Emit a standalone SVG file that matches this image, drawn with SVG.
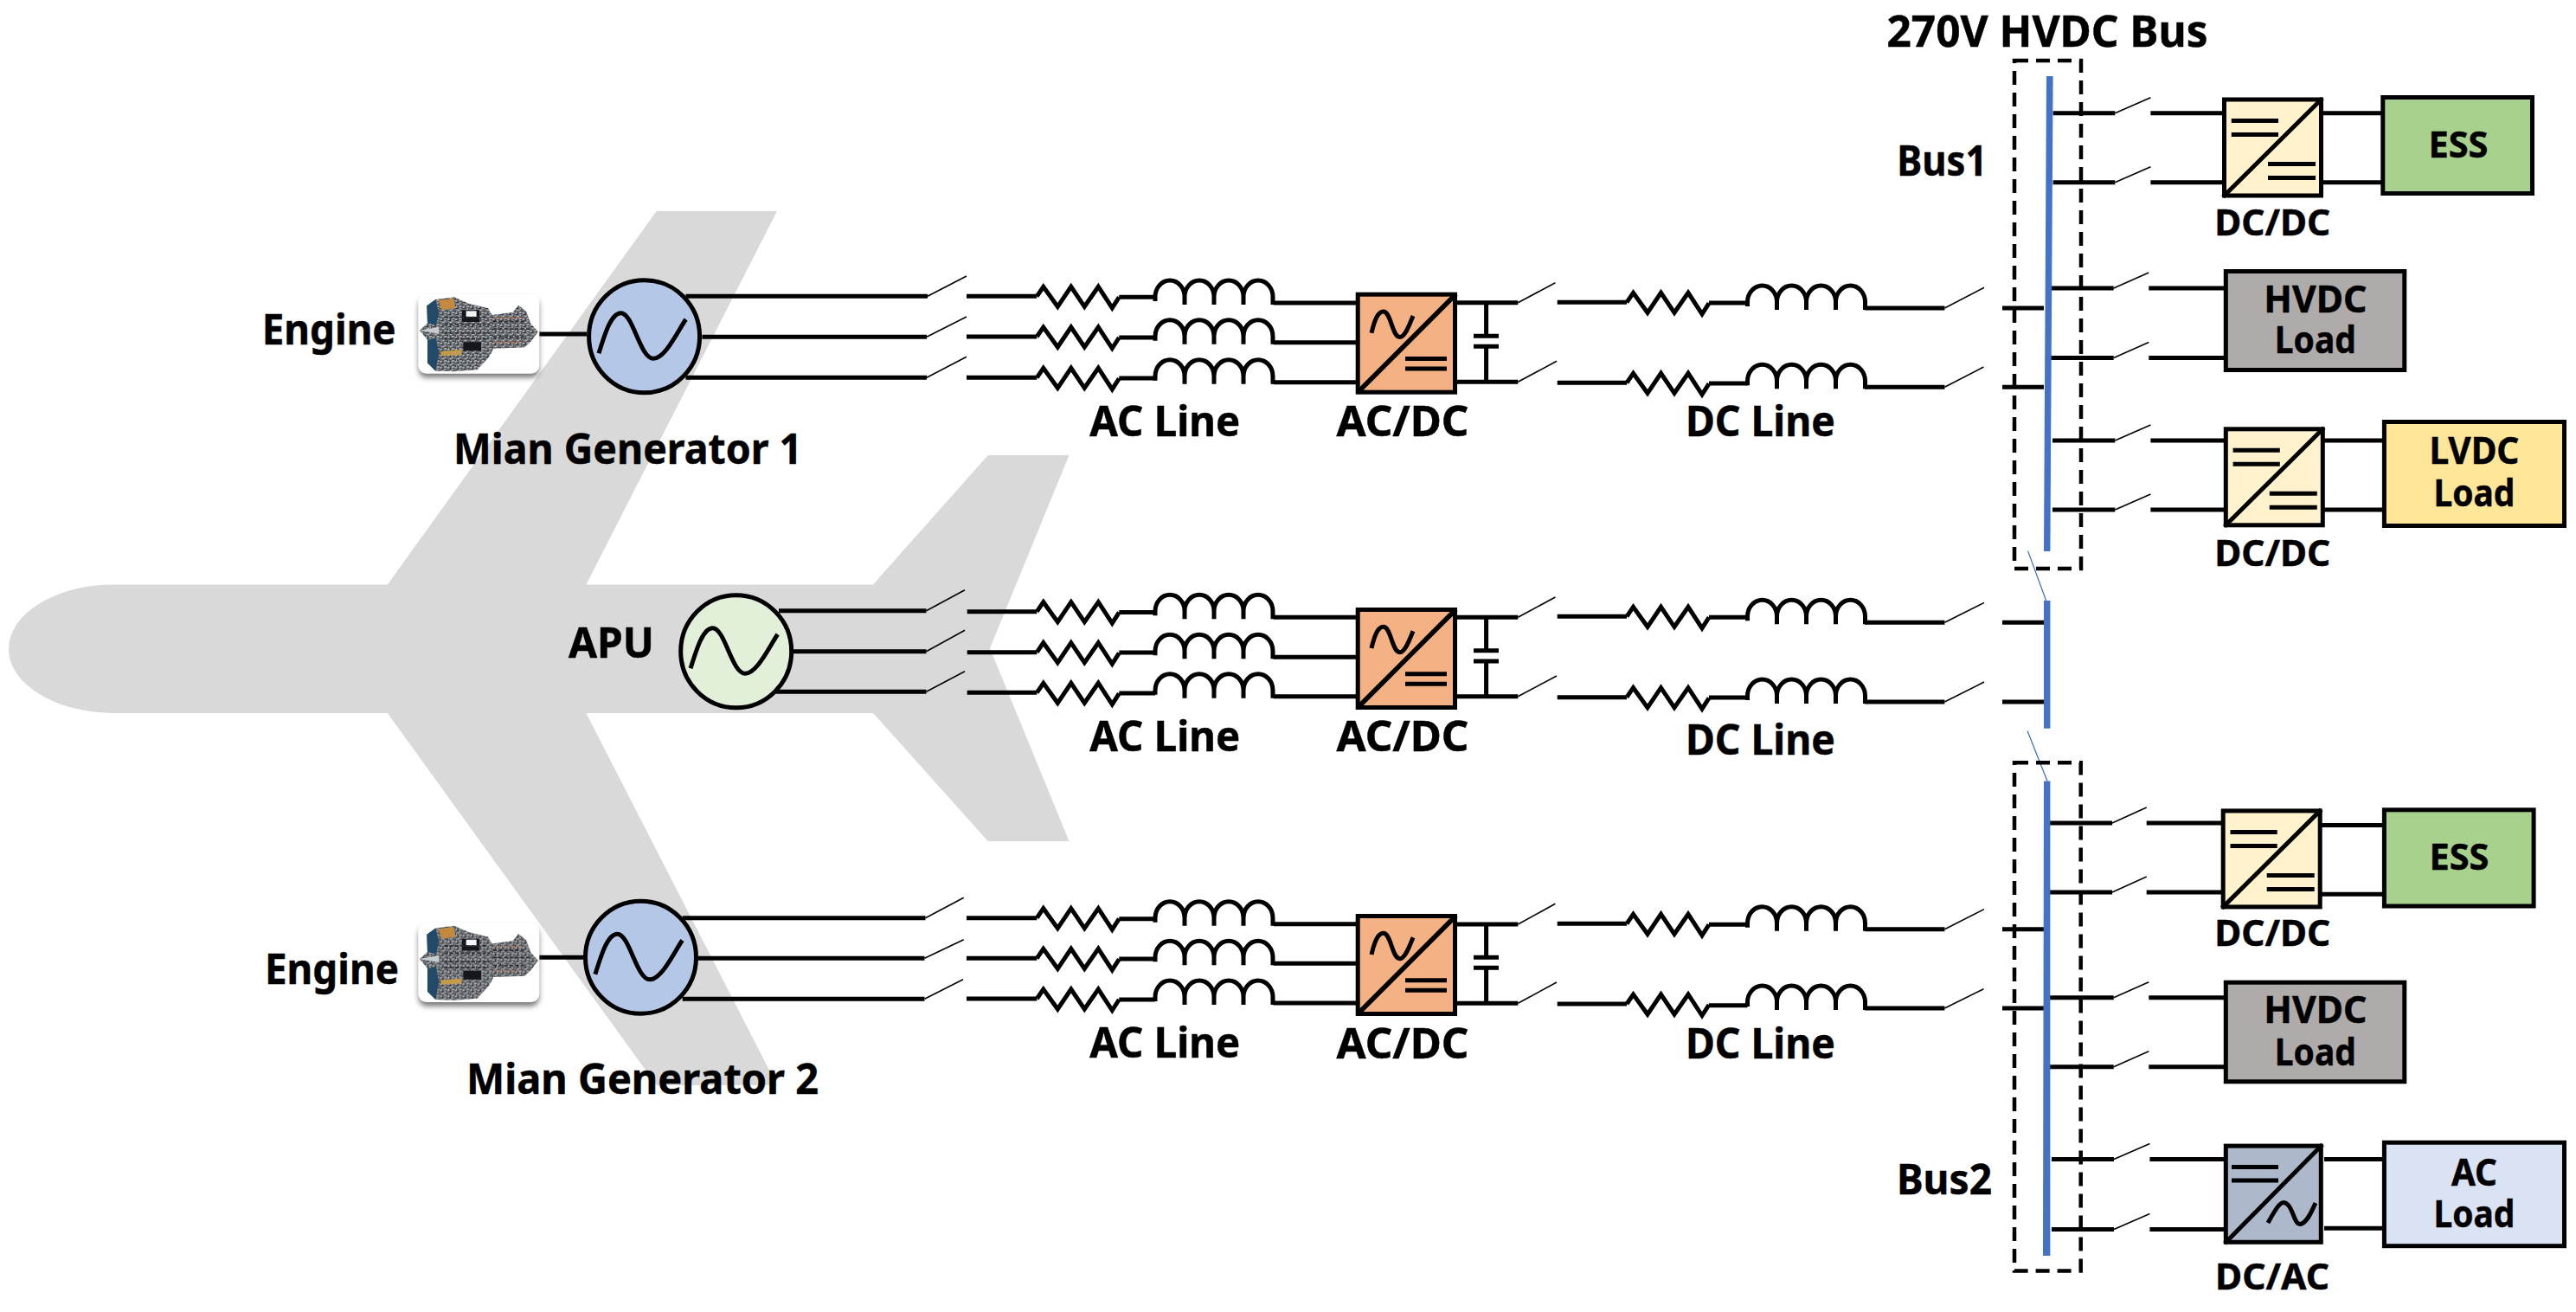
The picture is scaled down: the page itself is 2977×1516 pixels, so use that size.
<svg xmlns="http://www.w3.org/2000/svg" width="2977" height="1516" viewBox="0 0 2977 1516">
<style>
text{font-family:"Noto Sans","Open Sans","DejaVu Sans",sans-serif;font-weight:700;fill:#000;text-anchor:middle;stroke:#000;stroke-width:.5}
.l47{font-size:49px}.l42{font-size:43px}.l40{font-size:41px}
.w{fill:none;stroke:#000;stroke-width:5;stroke-linejoin:miter}
.b{fill:none;stroke:#000;stroke-width:1.6}
.box{stroke:#000;stroke-width:5}
.tie{fill:none;stroke:#4472C4;stroke-width:1.3}
.bus{fill:#4472C4}
.dash{fill:none;stroke:#000;stroke-width:4.500;stroke-dasharray:16 9}
</style>
<defs>
<filter id="sh" x="-20%" y="-20%" width="140%" height="160%"><feGaussianBlur stdDeviation="9"/></filter>
<filter id="soft" x="-5%" y="-5%" width="110%" height="110%"><feGaussianBlur stdDeviation="1.500"/></filter>
<path id="res" class="w" d="M0 0L7.5 -11L24 12L39.5 -11L55 12L71 -11L87 13.5L95 1"/>
<path id="ind" class="w" d="M0 2V-3A17 19 0 0 1 34 -3V6V-3A17 19 0 0 1 68 -3V6V-3A17 19 0 0 1 102 -3V6V-3A17 19 0 0 1 136 -3V6"/>
<path id="sine" class="w" d="M-52.6 19.5C-45 -5 -38 -27 -27 -27C-13 -27 -5 25.6 10.5 25.6C24 25.6 38 -5 48 -19.7"/>
<pattern id="spk" width="26" height="21" patternUnits="userSpaceOnUse">
<rect width="26" height="21" fill="#777b80"/>
<path d="M2 4h8M13 2v7M18 6h7M4 13h7M12 16h9M22 10v8M7 17v4" stroke="#23262a" stroke-width="3"/>
<path d="M1 9h7M11 12h7M20 2h5M2 18h4M15 6h2" stroke="#e4e6e8" stroke-width="3"/>
</pattern>
<g id="engine-art" transform="translate(470 330) scale(.3333)">
<rect x="42" y="46" width="416" height="272" rx="26" fill="#444" opacity=".75" filter="url(#sh)"/>
<rect x="40" y="30" width="420" height="275" rx="28" fill="#fff"/>
<g filter="url(#soft)">
<path d="M45 155L72 130L70 70L100 48L165 40L215 62L282 78L296 102L368 92L388 68L415 90L430 132L456 160L432 192L410 214L302 218L285 248L245 292L165 298L100 296L72 268L72 188Z" fill="url(#spk)"/>
<path d="M72 130L70 70L100 48L112 95L102 138ZM72 188L72 268L100 296L112 235L102 182Z" fill="#234a68"/>
<path d="M110 52L162 44L170 78L122 84Z" fill="#c38a3e"/>
<path d="M118 228L192 222L190 240L120 244Z" fill="#c49a4e"/>
<path d="M192 85H252V126H192ZM196 196H258V226H196Z" fill="#16181b"/>
<path d="M206 88H242V108H206Z" fill="#f4f4f4"/>
<path d="M45 155L112 143L112 167Z" fill="#c8ccd0"/>
<path d="M130 110H280M130 135H290M130 165H290M130 185H280M300 125H410M300 150H425M300 178H410" stroke="#2a2d31" stroke-width="5" stroke-dasharray="12 7" fill="none"/>
<path d="M300 112H400M300 196H400" stroke="#a8705a" stroke-width="5" stroke-dasharray="10 6" fill="none"/>
</g>
</g>
<g id="acdc">
<rect class="box" x="2.500" y="2.500" width="112.300" height="113" fill="#F4B183"/>
<path class="w" style="stroke-width:5.500" d="M2 116L116 2"/>
<path class="w" d="M18.3 47C22 31 26 22.3 32 22.3C41 22.3 42 51.7 51 51.7C57 51.7 62 38 66.300 27.300"/>
<path class="w" d="M57.300 76.700H105.300M57.300 88.300H105.300"/>
</g>
<g id="dcdc">
<rect class="box" x="2.500" y="2.500" width="112" height="111" fill="#FFF2CC"/>
<path class="w" d="M1 115L116 1M10.800 27H65M10.800 43H65M53 77H108M53 93H108"/>
</g>
</defs>

<path id="plane" fill="#D9D9D9" d="M132 675.400H447.800L758.700 244H898L677.400 675.400H1009L1141.800 526H1235.500L1144 749L1235.500 972H1141.800L1009 824H677.400L898 1254H758.700L447.800 824H132A122 74.300 0 0 1 132 675.400Z"/>

<g id="connectors">
<path class="w" d="M623 386H678M621.700 1106.300H676"/>
<path class="w" d="M792.500 342.300H1072M811.400 389.300H1071M792.500 436.300H1071"/>
<path class="w" d="M900 705.700H1070.500M915.600 752.700H1070.500M897 799.300H1070.500"/>
<path class="w" d="M788.700 1060.700H1069.500M806 1107.300H1068.500M788.700 1154.300H1068.500"/>
<path class="b" d="M1072 342.300L1117 319M1071 389.300L1117 366M1071 436.300L1117 412.300M1070.500 705.700L1115 681.700M1070.500 752.700L1115 728.300M1070.500 799.300L1115 775.700M1069.500 1060.700L1113.700 1037.300M1068.500 1107.300L1113.700 1085.700M1068.500 1154.300L1113 1131.700"/>
<path class="w" d="M1117 342.300H1198.300M1293.300 343.300H1335M1471.700 350H1567M1117 389H1198.300M1293.300 390H1335M1471.700 395.700H1567M1117 436.300H1198.300M1293.300 437H1335M1471.700 441.700H1567"/>
<path class="w" d="M1117.700 706.700H1198.300M1293.300 707.500H1335M1471.700 713.300H1567M1117.700 753.700H1198.300M1293.300 754H1335M1471.700 759.300H1567M1117.700 800.300H1198.300M1293.300 801H1335M1471.700 804.700H1567"/>
<path class="w" d="M1117 1060.700H1198.300M1293.300 1061.700H1335M1471.700 1067.700H1567M1117 1107.300H1198.300M1293.300 1108H1335M1471.700 1113.300H1567M1117 1154H1198.300M1293.300 1155H1335M1471.700 1159H1567"/>
<use href="#res" x="1198.300" y="342.300"/><use href="#res" x="1198.300" y="389"/><use href="#res" x="1198.300" y="436.300"/>
<use href="#res" x="1198.300" y="706.700"/><use href="#res" x="1198.300" y="753.700"/><use href="#res" x="1198.300" y="800.300"/>
<use href="#res" x="1198.300" y="1060.700"/><use href="#res" x="1198.300" y="1107.300"/><use href="#res" x="1198.300" y="1154"/>
<use href="#ind" x="1335" y="346"/><use href="#ind" x="1335" y="391.700"/><use href="#ind" x="1335" y="437.700"/>
<use href="#ind" x="1335" y="709.300"/><use href="#ind" x="1335" y="755.300"/><use href="#ind" x="1335" y="800.700"/>
<use href="#ind" x="1335" y="1063.700"/><use href="#ind" x="1335" y="1109.300"/><use href="#ind" x="1335" y="1155"/>
<path class="w" d="M1684 349.700H1754.300M1684 441.300H1754.300M1717.600 349.700V388.300M1703 388.300H1732M1703 400.300H1732M1717.600 400.300V441.300"/>
<path class="w" d="M1684 713.300H1754.300M1684 804.700H1754.300M1717.600 713.300V751.700M1703 751.700H1732M1703 764H1732M1717.600 764V804.700"/>
<path class="w" d="M1684 1068H1754.300M1684 1159.300H1754.300M1717.600 1068V1106.300M1703 1106.300H1732M1703 1118.300H1732M1717.600 1118.300V1159.300"/>
<path class="b" d="M1754.300 349.700L1797.400 326.700M1754.300 441.300L1799 417.300M1754.300 713.300L1797.400 690M1754.300 804.700L1799 781M1754.300 1068L1797.400 1044.300M1754.300 1159.300L1799 1135"/>
<path class="w" d="M1799.700 349.300H1880M1975 350H2019.500M2155 356H2247.400M2314 356H2362M1799.700 442.300H1880M1975 443H2019.500M2155 447.300H2247.400M2314 447.300H2362"/>
<path class="w" d="M1799.700 712.300H1880M1975 713.300H2019.500M2155 719.300H2247.400M2314 719.300H2362M1799.700 805.700H1880M1975 806H2019.500M2155 811H2247.400M2314 811H2362"/>
<path class="w" d="M1799.700 1067.300H1880M1975 1068.300H2019.500M2155 1073.700H2247.400M2314 1073.700H2362M1799.700 1160H1880M1975 1161.700H2019.500M2155 1165H2247.400M2314 1165H2362"/>
<use href="#res" x="1880" y="349.300"/><use href="#res" x="1880" y="442.300"/><use href="#res" x="1880" y="712.300"/><use href="#res" x="1880" y="805.700"/><use href="#res" x="1880" y="1067.300"/><use href="#res" x="1880" y="1160"/>
<use href="#ind" x="2019.500" y="352"/><use href="#ind" x="2019.500" y="443.300"/><use href="#ind" x="2019.500" y="715.300"/><use href="#ind" x="2019.500" y="807"/><use href="#ind" x="2019.500" y="1069.700"/><use href="#ind" x="2019.500" y="1161"/>
<path class="b" d="M2247.400 356L2293 332.300M2247.400 447.300L2292.400 424M2247.400 719.300L2293 696.400M2247.400 811L2293 788M2247.400 1073.700L2293 1050.600M2247.400 1165L2292.400 1142.800"/>
<path class="tie" d="M2343.600 636.600L2365 695M2343 844.500L2366 902.600"/>
<path class="w" d="M2372.600 130.800H2444.300M2485.400 130.800H2568M2372.600 210.700H2444.300M2485.400 210.700H2568M2369 333H2442.700M2483.300 333H2570M2369 413.400H2442.700M2483.300 413.400H2570M2372 509H2444.300M2485.400 509H2570M2372 589H2444.300M2485.400 589H2570"/>
<path class="b" d="M2444.300 130.800L2485.400 112.800M2444.300 210.700L2485.400 192.700M2442.700 333L2483.300 315M2442.700 413.400L2483.300 395.400M2444.300 509L2485.400 491M2444.300 589L2485.400 571"/>
<path class="w" d="M2685 130.800H2752M2685 210.700H2752M2686 509H2753M2686 589H2753"/>
<path class="w" d="M2366.800 951H2441M2480.700 951H2567M2366.800 1031H2441M2480.700 1031H2567M2368.900 1152.800H2442.700M2483.300 1152.800H2570M2368.900 1232.700H2442.700M2483.300 1232.700H2570M2371 1339.400H2443M2484.400 1339.400H2570M2371 1420.400H2443M2484.400 1420.400H2570"/>
<path class="b" d="M2441 951L2480.700 933M2441 1031L2480.700 1013M2442.700 1152.800L2483.300 1134.800M2442.700 1232.700L2483.300 1214.700M2443 1339.400L2484.400 1321.400M2443 1420.400L2484.400 1402.400"/>
<path class="w" d="M2682 953.400H2753M2682 1033.300H2753M2686 1339.400H2753M2686 1419.300H2753"/>
</g>

<g id="engine1"><use href="#engine-art"/><text class="l47" x="380.200" y="397.500" textLength="155" lengthAdjust="spacingAndGlyphs">Engine</text></g>
<g id="generator1"><ellipse class="box" cx="744.600" cy="388.700" rx="64" ry="65" fill="#B4C7E7"/><use href="#sine" x="744.600" y="388.700"/><text class="l47" x="725.500" y="536" textLength="403" lengthAdjust="spacingAndGlyphs">Mian Generator 1</text></g>
<g id="apu"><ellipse class="box" cx="850.700" cy="752.700" rx="64" ry="65" fill="#E2F0D9"/><use href="#sine" x="850.700" y="752.700"/><text class="l47" x="706.400" y="760.400" textLength="99" lengthAdjust="spacingAndGlyphs">APU</text></g>
<g id="engine2"><use href="#engine-art" y="726.400"/><text class="l47" x="383.500" y="1137.400" textLength="155" lengthAdjust="spacingAndGlyphs">Engine</text></g>
<g id="generator2"><ellipse class="box" cx="740.500" cy="1106.200" rx="64" ry="65" fill="#B4C7E7"/><use href="#sine" x="740.500" y="1106.200"/><text class="l47" x="742.500" y="1264" textLength="407" lengthAdjust="spacingAndGlyphs">Mian Generator 2</text></g>

<g id="acdc1"><use href="#acdc" x="1566.700" y="337.700"/><text class="l47" x="1621" y="504" textLength="153" lengthAdjust="spacingAndGlyphs">AC/DC</text></g>
<g id="acdc2"><use href="#acdc" x="1566.700" y="702"/><text class="l47" x="1621" y="868.300" textLength="153" lengthAdjust="spacingAndGlyphs">AC/DC</text></g>
<g id="acdc3"><use href="#acdc" x="1566.700" y="1056"/><text class="l47" x="1621" y="1222.700" textLength="153" lengthAdjust="spacingAndGlyphs">AC/DC</text></g>
<g id="line-labels">
<text class="l47" x="1346.300" y="504" textLength="174" lengthAdjust="spacingAndGlyphs">AC Line</text>
<text class="l47" x="1346.300" y="868.300" textLength="174" lengthAdjust="spacingAndGlyphs">AC Line</text>
<text class="l47" x="1346.300" y="1221.700" textLength="174" lengthAdjust="spacingAndGlyphs">AC Line</text>
<text class="l47" x="2034.400" y="504" textLength="173" lengthAdjust="spacingAndGlyphs">DC Line</text>
<text class="l47" x="2034.400" y="872" textLength="173" lengthAdjust="spacingAndGlyphs">DC Line</text>
<text class="l47" x="2034.400" y="1222.700" textLength="173" lengthAdjust="spacingAndGlyphs">DC Line</text>
</g>

<g id="bus1">
<text style="font-size:51px" x="2366" y="53.600" textLength="371" lengthAdjust="spacingAndGlyphs">270V HVDC Bus</text>
<text class="l47" x="2244.300" y="203" textLength="104" lengthAdjust="spacingAndGlyphs">Bus1</text>
<rect class="dash" x="2328" y="70" width="77" height="587"/>
<path class="bus" d="M2365 88H2372.600L2369.400 637H2362Z"/>
</g>
<g id="bus-mid"><rect class="bus" x="2362" y="694" width="7.400" height="147.700"/></g>
<g id="bus2">
<text class="l47" x="2247" y="1380" textLength="110" lengthAdjust="spacingAndGlyphs">Bus2</text>
<rect class="dash" x="2328" y="881.300" width="76.700" height="587.200"/>
<path class="bus" d="M2362 902.600H2369.400V1451H2361Z"/>
</g>

<g id="dcdc1"><use href="#dcdc" x="2568" y="112.500"/><text class="l40" x="2626.300" y="272" textLength="134" lengthAdjust="spacingAndGlyphs">DC/DC</text></g>
<g id="ess1"><rect class="box" x="2753.800" y="112.500" width="172.700" height="111" fill="#A9D18E"/><text class="l40" x="2841" y="181.700" textLength="69" lengthAdjust="spacingAndGlyphs">ESS</text></g>
<g id="hvdc1"><rect class="box" x="2572.300" y="313.500" width="206.500" height="114" fill="#AFABAB"/><text class="l42" x="2675.800" y="360.700" textLength="119" lengthAdjust="spacingAndGlyphs">HVDC</text><text class="l42" x="2675.800" y="407.600" textLength="94" lengthAdjust="spacingAndGlyphs">Load</text></g>
<g id="dcdc2"><use href="#dcdc" x="2569.800" y="493.300"/><text class="l40" x="2626.300" y="654" textLength="134" lengthAdjust="spacingAndGlyphs">DC/DC</text></g>
<g id="lvdc"><rect class="box" x="2755.400" y="487.500" width="208.100" height="120" fill="#FFE699"/><text class="l42" x="2859.400" y="535.700" textLength="104" lengthAdjust="spacingAndGlyphs">LVDC</text><text class="l42" x="2859.400" y="584.800" textLength="94" lengthAdjust="spacingAndGlyphs">Load</text></g>
<g id="dcdc3"><use href="#dcdc" x="2566.700" y="934.400"/><text class="l40" x="2626.300" y="1092.500" textLength="134" lengthAdjust="spacingAndGlyphs">DC/DC</text></g>
<g id="ess2"><rect class="box" x="2755.400" y="935.800" width="172.700" height="111.200" fill="#A9D18E"/><text class="l40" x="2842" y="1004.800" textLength="69" lengthAdjust="spacingAndGlyphs">ESS</text></g>
<g id="hvdc2"><rect class="box" x="2572.300" y="1135.200" width="206.500" height="114.600" fill="#AFABAB"/><text class="l42" x="2675.800" y="1182" textLength="119" lengthAdjust="spacingAndGlyphs">HVDC</text><text class="l42" x="2675.800" y="1230.500" textLength="94" lengthAdjust="spacingAndGlyphs">Load</text></g>
<g id="dcac">
<rect class="box" x="2572.300" y="1324.100" width="110" height="111.200" fill="#ADB9CA"/>
<path class="w" d="M2571 1436.800L2684 1322.600M2579 1348.400H2633M2579 1364H2633M2621 1413C2632 1393 2637 1385 2644 1392S2652 1418 2660 1414S2672 1398 2676 1390"/>
<text class="l40" x="2626" y="1490" textLength="132" lengthAdjust="spacingAndGlyphs">DC/AC</text>
</g>
<g id="acload"><rect class="box" x="2755.400" y="1320.200" width="208.100" height="119.500" fill="#DAE3F3"/><text class="l42" x="2859.400" y="1369.600" textLength="53" lengthAdjust="spacingAndGlyphs">AC</text><text class="l42" x="2859.400" y="1418" textLength="94" lengthAdjust="spacingAndGlyphs">Load</text></g>
</svg>
